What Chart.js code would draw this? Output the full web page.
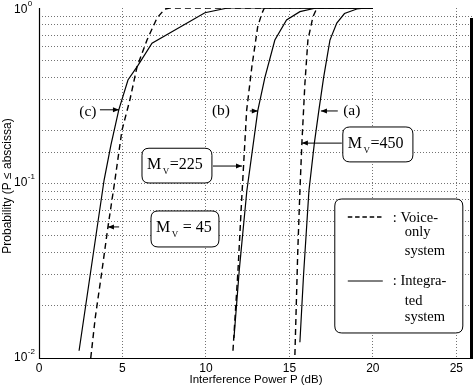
<!DOCTYPE html>
<html><head><meta charset="utf-8">
<script src="https://cdn.jsdelivr.net/npm/chart.js@4.4.1/dist/chart.umd.min.js"></script>
<style>html,body{margin:0;padding:0;background:#fff;}canvas{display:block;}</style>
</head><body>
<canvas id="c" width="474" height="387"></canvas>
<script>
// ---- data ----
const xTickValues = [0, 5, 10, 15, 20, 25];
const yTickLabels = [{ v: 1, e: '0' }, { v: 0.1, e: '-1' }, { v: 0.01, e: '-2' }];

// (c) M_v = 45
const cVoiceX = [3.1, 3.37, 3.74, 4.13, 4.55, 4.97, 5.45, 5.87, 6.47, 7.07, 7.54, 7.84, 20];
const cVoiceP = [0.010, 0.017, 0.030, 0.056, 0.104, 0.20, 0.30, 0.46, 0.656, 0.877, 0.987, 1, 1];
const cIntX = [2.4, 3.0, 3.9, 4.31, 4.78, 5.33, 5.93, 6.77, 9.94, 11.3, 20];
const cIntP = [0.011, 0.027, 0.104, 0.165, 0.262, 0.388, 0.47, 0.63, 0.94, 1, 1];
// (b) M_v = 225
const bVoiceX = [11.62, 11.92, 12.14, 12.44, 12.75, 13.1, 13.35, 13.5, 20];
const bVoiceP = [0.011, 0.0316, 0.08, 0.26, 0.46, 0.78, 0.93, 1, 1];
const bIntX = [11.68, 12.0, 12.45, 13.11, 13.53, 14.13, 14.83, 15.63, 16.6, 20];
const bIntP = [0.013, 0.032, 0.09, 0.26, 0.40, 0.656, 0.854, 0.953, 1, 1];
// (a) M_v = 450
const aVoiceX = [15.33, 15.5, 15.63, 15.75, 15.93, 16.11, 16.41, 16.65, 20];
const aVoiceP = [0.0104, 0.04, 0.09, 0.17, 0.37, 0.656, 0.89, 1, 1];
const aIntX = [15.63, 15.85, 16.17, 16.5, 16.77, 17.05, 17.43, 17.84, 18.3, 19.04, 19.6, 20];
const aIntP = [0.0123, 0.03, 0.09, 0.17, 0.262, 0.40, 0.656, 0.82, 0.93, 0.987, 1, 1];

const series = [
  { x: cVoiceX, p: cVoiceP, dashed: true },
  { x: cIntX, p: cIntP, dashed: false },
  { x: bVoiceX, p: bVoiceP, dashed: true },
  { x: bIntX, p: bIntP, dashed: false },
  { x: aVoiceX, p: aVoiceP, dashed: true },
  { x: aIntX, p: aIntP, dashed: false }
];

// ---- annotations (data coordinates) ----
const labels = [
  { text: '(c)', x: 2.93, p: 0.254, ax0: 3.65, ax1: 4.79, ap: 0.262 },
  { text: '(b)', x: 10.9, p: 0.258, ax0: 12.63, ax1: 13.11, ap: 0.258 },
  { text: '(a)', x: 18.74, p: 0.258, ax0: 17.9, ax1: 16.89, ap: 0.258 }
];
const mvBoxes = [
  { rest: '=225', x0: 6.17, x1: 10.36, pTop: 0.158, pBot: 0.1, ax0: 10.42, ax1: 12.16, ap: 0.125 },
  { rest: ' = 45', x0: 6.71, x1: 10.78, pTop: 0.0692, pBot: 0.0431, ax0: 4.8, ax1: 4.13, ap: 0.0561 },
  { rest: '=450', x0: 18.2, x1: 22.4, pTop: 0.209, pBot: 0.132, ax0: 18.14, ax1: 15.75, ap: 0.169 }
];
const legendBox = { x0: 17.72, x1: 25.39, pTop: 0.081, pBot: 0.0139 };

const SANS = '"Liberation Sans", Arial, sans-serif';
const SERIF = '"Liberation Serif", "Times New Roman", serif';

function roundRect(ctx, x, y, w, h, r) {
  ctx.beginPath();
  ctx.moveTo(x + r, y);
  ctx.lineTo(x + w - r, y);
  ctx.quadraticCurveTo(x + w, y, x + w, y + r);
  ctx.lineTo(x + w, y + h - r);
  ctx.quadraticCurveTo(x + w, y + h, x + w - r, y + h);
  ctx.lineTo(x + r, y + h);
  ctx.quadraticCurveTo(x, y + h, x, y + h - r);
  ctx.lineTo(x, y + r);
  ctx.quadraticCurveTo(x, y, x + r, y);
  ctx.closePath();
}
function arrow(ctx, x0, y0, x1, y1) {
  ctx.save();
  ctx.strokeStyle = '#000'; ctx.fillStyle = '#000'; ctx.lineWidth = 1;
  ctx.beginPath(); ctx.moveTo(x0, y0); ctx.lineTo(x1, y1); ctx.stroke();
  const a = Math.atan2(y1 - y0, x1 - x0), L = 6, W = 2.5;
  ctx.beginPath();
  ctx.moveTo(x1, y1);
  ctx.lineTo(x1 - L * Math.cos(a) + W * Math.sin(a), y1 - L * Math.sin(a) - W * Math.cos(a));
  ctx.lineTo(x1 - L * Math.cos(a) - W * Math.sin(a), y1 - L * Math.sin(a) + W * Math.cos(a));
  ctx.closePath(); ctx.fill();
  ctx.restore();
}

const decor = {
  id: 'decor',
  afterDatasetsDraw(chart) {
    const ctx = chart.ctx, xs = chart.scales.x, ys = chart.scales.y, ca = chart.chartArea;
    const X = v => xs.getPixelForValue(v), Y = p => ys.getPixelForValue(p);
    ctx.save();
    // axes frame
    ctx.strokeStyle = '#000';
    ctx.lineWidth = 1.2;
    ctx.beginPath();
    ctx.moveTo(ca.left + 0.5, ca.top); ctx.lineTo(ca.left + 0.5, ca.bottom + 0.5);
    ctx.lineTo(ca.right, ca.bottom + 0.5);
    ctx.stroke();
    ctx.lineWidth = 3;
    ctx.beginPath(); ctx.moveTo(ca.right - 1.5, ca.top + 10); ctx.lineTo(ca.right - 1.5, ca.bottom); ctx.stroke();

    // y tick labels 10^n
    ctx.fillStyle = '#000';
    yTickLabels.forEach(t => {
      let y = Y(t.v); if (t.v === 1) y += 2;
      ctx.font = '12px ' + SANS; ctx.textBaseline = 'middle'; ctx.textAlign = 'left';
      ctx.fillText('10', 14, y);
      const w = ctx.measureText('10').width;
      ctx.font = '8px ' + SANS;
      ctx.fillText(t.e, 14 + w + 0.5, y - 6);
    });
    // axis titles
    ctx.font = '11.5px ' + SANS; ctx.textAlign = 'center'; ctx.textBaseline = 'middle';
    ctx.fillText('Interference Power P (dB)', (ca.left + ca.right) / 2, 380);
    ctx.save();
    ctx.translate(8, 186); ctx.rotate(-Math.PI / 2);
    ctx.font = '12px ' + SANS;
    ctx.fillText('Probability (P \u2264 abscissa)', 0, 0);
    ctx.restore();

    // (a)(b)(c) labels
    ctx.font = '15.5px ' + SERIF; ctx.textAlign = 'center'; ctx.textBaseline = 'middle';
    labels.forEach(l => {
      ctx.fillText(l.text, X(l.x), Y(l.p));
      arrow(ctx, X(l.ax0), Y(l.ap), X(l.ax1), Y(l.ap));
    });
    // M_v boxes
    mvBoxes.forEach(b => {
      const x0 = X(b.x0), x1 = X(b.x1), y0 = Y(b.pTop), y1 = Y(b.pBot);
      roundRect(ctx, x0, y0, x1 - x0, y1 - y0, 7);
      ctx.fillStyle = '#fff'; ctx.fill();
      ctx.strokeStyle = '#000'; ctx.lineWidth = 1; ctx.stroke();
      ctx.fillStyle = '#000'; ctx.textAlign = 'left'; ctx.textBaseline = 'alphabetic';
      let tx = x0 + 5; const base = y0 + 21;
      ctx.font = '16px ' + SERIF; ctx.fillText('M', tx, base); tx += ctx.measureText('M').width + 1.5;
      ctx.font = '9px ' + SERIF; ctx.fillText('V', tx, base + 5); tx += ctx.measureText('V').width + 0.5;
      ctx.font = '16px ' + SERIF; ctx.fillText(b.rest, tx, base);
      arrow(ctx, X(b.ax0), Y(b.ap), X(b.ax1), Y(b.ap));
    });
    // legend box
    {
      const x0 = X(legendBox.x0), x1 = X(legendBox.x1), y0 = Y(legendBox.pTop), y1 = Y(legendBox.pBot);
      roundRect(ctx, x0, y0, x1 - x0, y1 - y0, 7);
      ctx.fillStyle = '#fff'; ctx.fill();
      ctx.strokeStyle = '#000'; ctx.lineWidth = 1; ctx.stroke();
      ctx.lineWidth = 1.3;
      ctx.setLineDash([4.5, 2.8]);
      ctx.beginPath(); ctx.moveTo(x0 + 13, y0 + 18); ctx.lineTo(x0 + 47, y0 + 18); ctx.stroke();
      ctx.setLineDash([]);
      ctx.lineWidth = 1;
      ctx.beginPath(); ctx.moveTo(x0 + 13, y0 + 82); ctx.lineTo(x0 + 48, y0 + 82); ctx.stroke();
      ctx.fillStyle = '#000'; ctx.font = '14.5px ' + SERIF; ctx.textAlign = 'left'; ctx.textBaseline = 'alphabetic';
      ctx.fillText(': Voice-', x0 + 58, y0 + 23);
      ctx.fillText('only', x0 + 70, y0 + 37);
      ctx.fillText('system', x0 + 70, y0 + 56);
      ctx.fillText(': Integra-', x0 + 58, y0 + 86);
      ctx.fillText('ted', x0 + 70, y0 + 106);
      ctx.fillText('system', x0 + 70, y0 + 122);
    }
    ctx.restore();
  }
};

new Chart(document.getElementById('c'), {
  type: 'line',
  data: {
    datasets: series.map(s => ({
      data: s.x.map((v, i) => ({ x: v, y: s.p[i] })),
      borderColor: '#000',
      borderWidth: s.dashed ? 1.4 : 1.2,
      borderDash: s.dashed ? [6, 4] : [],
      pointRadius: 0,
      fill: false,
      tension: 0
    }))
  },
  options: {
    responsive: false,
    animation: false,
    devicePixelRatio: 1,
    layout: { padding: { top: 8, right: 1, left: 0, bottom: 0 } },
    plugins: { legend: { display: false }, tooltip: { enabled: false } },
    scales: {
      x: {
        type: 'linear', min: 0, max: 26,
        afterBuildTicks: sc => { sc.ticks = xTickValues.map(v => ({ value: v })); },
        afterFit: sc => { sc.height = 29; },
        ticks: { stepSize: 5, includeBounds: false, autoSkip: false, maxRotation: 0, padding: 3,
                 color: '#000', font: { family: SANS, size: 12 } },
        grid: { drawTicks: false, lineWidth: 1,
                color: c => (c.tick && (c.tick.value === 0)) ? 'rgba(0,0,0,0)' : 'rgba(0,0,0,0.55)' },
        border: { display: false, dash: [1, 2] }
      },
      y: {
        type: 'logarithmic', min: 0.01, max: 1,
        afterFit: sc => { sc.width = 39; },
        ticks: { display: false },
        grid: { drawTicks: false, lineWidth: 1,
                color: c => (c.tick && (c.tick.value >= 0.999 || c.tick.value <= 0.0101)) ? 'rgba(0,0,0,0)' : 'rgba(0,0,0,0.55)' },
        border: { display: false, dash: [1, 2] }
      }
    }
  },
  plugins: [decor]
});
</script>
</body></html>
